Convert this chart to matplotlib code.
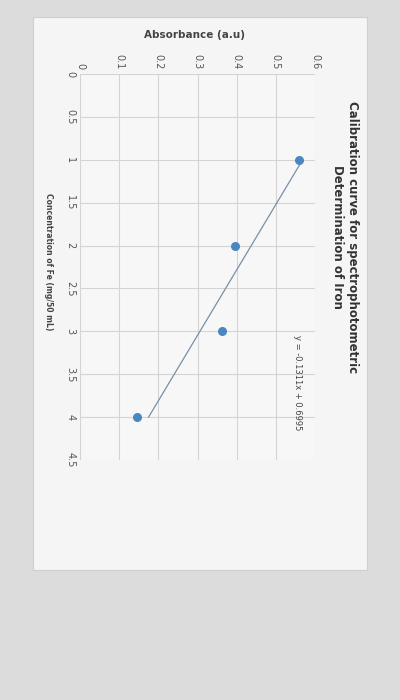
import numpy as np
import matplotlib.pyplot as plt

# data (chart is photographed rotated 90 deg clockwise)
conc = [1, 2, 3, 4]
absorb = [0.559, 0.397, 0.362, 0.145]
slope, intercept = -0.1311, 0.6995
conc_ticks = [0, 0.5, 1, 1.5, 2, 2.5, 3, 3.5, 4, 4.5]
abs_ticks = [0, 0.1, 0.2, 0.3, 0.4, 0.5, 0.6]

fig = plt.figure(figsize=(4, 7), dpi=100, facecolor="#dcdcdc")

# chart area background
bg = fig.add_axes([33/400, 1-570/700, 334/400, 553/700], zorder=0)
bg.set_facecolor("#f5f5f5")
bg.set_xticks([])
bg.set_yticks([])
for s in bg.spines.values():
    s.set_color("#cfcfcf")

ax = fig.add_axes([80/400, 1-460/700, 235/400, 386/700], zorder=1)
ax.set_facecolor("#f7f7f7")
ax.set_xlim(0, 0.6)
ax.set_ylim(4.5, 0)
ax.set_xticks(abs_ticks)
ax.set_yticks(conc_ticks)
ax.grid(True, color="#d4d4d4", lw=0.8)
for s in ax.spines.values():
    s.set_visible(False)
ax.tick_params(length=0, colors="#555555", labelsize=7)
ax.xaxis.tick_top()
ax.set_xticklabels([f"{t:g}" for t in abs_ticks], rotation=-90)
ax.set_yticklabels([f"{t:g}" for t in conc_ticks], rotation=-90, va="center")

cfit = np.array([conc[0], conc[-1]])
ax.plot(slope * cfit + intercept, cfit, color="#7a8fa8", lw=0.9, zorder=2)
ax.scatter(absorb, conc, s=30, color="#4a86c0", zorder=3)
ax.text(0.555, 3.6, "y = -0.1311x + 0.6995", rotation=-90, fontsize=6, color="#444444",
        ha="center", va="center")

fig.text(345/400, 1-237/700, "Calibration curve for spectrophotometric\nDetermination of Iron",
         rotation=-90, ha="center", va="center", fontsize=8.5, fontweight="bold",
         color="#333333", linespacing=1.2, zorder=3)
fig.text(195/400, 1-35/700, "Absorbance (a.u)", ha="center", va="center", fontsize=7.5,
         fontweight="bold", color="#444444", zorder=3)
fig.text(48/400, 1-262/700, "Concentration of Fe (mg/50 mL)", rotation=-90, ha="center",
         va="center", fontsize=5.5, fontweight="bold", color="#444444", zorder=3)

fig.savefig("out.png", facecolor=fig.get_facecolor())
